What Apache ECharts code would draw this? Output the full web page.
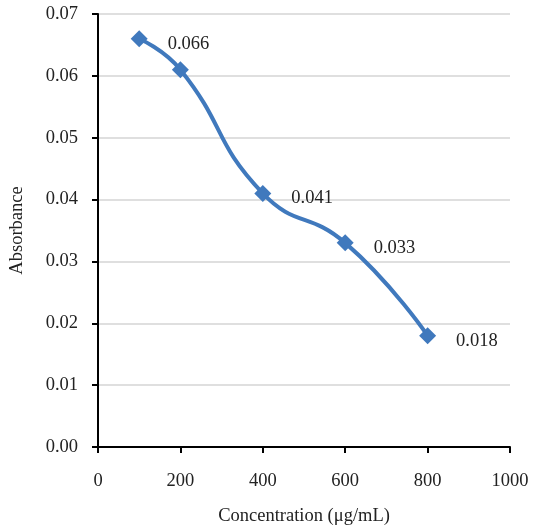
<!DOCTYPE html>
<html><head><meta charset="utf-8">
<script src="https://cdn.jsdelivr.net/npm/echarts@6/dist/echarts.min.js"></script>
<style>html,body{margin:0;padding:0;background:#fff}#c{width:535px;height:532px}</style>
</head><body><div id="c"></div>
<script>
const concentrations = [100, 200, 400, 600, 800];
const absorbance = [0.066, 0.061, 0.041, 0.033, 0.018];
const pointLabels = ['0.066', '', '0.041', '0.033', '0.018'];
const xTicks = [0, 200, 400, 600, 800, 1000];
const yTicks = [0, 0.01, 0.02, 0.03, 0.04, 0.05, 0.06, 0.07];

const font = 'Liberation Serif';
const fs = 18.5;
const chart = echarts.init(document.getElementById('c'));
chart.setOption({
  animation: false,
  grid: {left: 90, right: 25, top: 14, bottom: 85, containLabel: false},
  xAxis: {
    type: 'value', min: 0, max: 1000, interval: 200,
    name: 'Concentration (μg/mL)', nameLocation: 'middle', nameGap: 60,
    nameTextStyle: {fontFamily: font, fontSize: fs, color: '#222'},
    axisLine: {show: true, lineStyle: {color: '#000', width: 2}},
    axisTick: {show: true, length: 6, lineStyle: {color: '#000', width: 2}},
    axisLabel: {fontFamily: font, fontSize: fs, color: '#222', margin: 25,
      formatter: v => String(v)},
    splitLine: {show: false}
  },
  yAxis: {
    type: 'value', min: 0, max: 0.07, interval: 0.01,
    name: 'Absorbance', nameLocation: 'middle', nameGap: 71,
    nameTextStyle: {fontFamily: font, fontSize: fs, color: '#222'},
    axisLine: {show: true, lineStyle: {color: '#000', width: 2}},
    axisTick: {show: true, length: 6, lineStyle: {color: '#000', width: 2}},
    axisLabel: {fontFamily: font, fontSize: fs, color: '#222', margin: 20,
      formatter: v => v.toFixed(2)},
    splitLine: {show: true, lineStyle: {color: '#d4d4d4', width: 1.5}}
  },
  series: [{
    type: 'line',
    data: concentrations.map((x, i) => [x, absorbance[i]]),
    smooth: 0.5,
    symbol: 'diamond', symbolSize: 17,
    lineStyle: {color: '#4079bd', width: 4},
    itemStyle: {color: '#4079bd'},
    label: {show: true, position: 'right', distance: 20, offset: [0, 5],
      fontFamily: font, fontSize: fs, color: '#222',
      formatter: p => pointLabels[p.dataIndex]}
  }]
});
</script></body></html>
